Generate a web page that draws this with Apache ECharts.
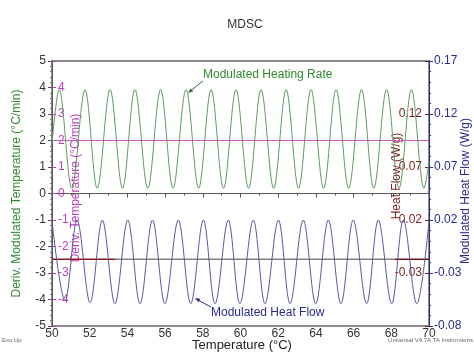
<!DOCTYPE html>
<html><head><meta charset="utf-8">
<script src="https://cdn.jsdelivr.net/npm/echarts/dist/echarts.min.js"></script>
<style>html,body{margin:0;padding:0;background:#fff}#c{width:474px;height:356px}</style>
</head><body><div id="c"></div>
<script>
// Modulated Heating Rate (°C/min) — extrema
const heatingRateT = [50.0, 50.38, 51.05, 51.75, 52.40, 53.08, 53.74, 54.40, 55.08, 55.76, 56.42, 57.11, 57.78, 58.44, 59.10, 59.76, 60.43, 61.09, 61.76, 62.42, 63.08, 63.74, 64.41, 65.07, 65.74, 66.42, 67.07, 67.75, 68.41, 69.07, 69.74, 70.0];
const heatingRateV = [1.9, 3.92, 0.2, 3.92, 0.2, 3.92, 0.2, 3.92, 0.2, 3.92, 0.2, 3.92, 0.2, 3.92, 0.2, 3.92, 0.2, 3.92, 0.2, 3.92, 0.2, 3.92, 0.2, 3.92, 0.2, 3.92, 0.2, 3.92, 0.2, 3.92, 0.2, 1.2];
// Modulated Heat Flow (W/g)
const modHeatFlowT = [50.0, 50.69, 51.33, 52.02, 52.67, 53.34, 54.02, 54.67, 55.33, 55.99, 56.70, 57.36, 58.03, 58.65, 59.35, 59.97, 60.68, 61.30, 62.01, 62.63, 63.33, 63.99, 64.66, 65.33, 65.98, 66.69, 67.31, 68.02, 68.64, 69.35, 70.0];
const modHeatFlowV = [0.019, -0.056, 0.020, -0.058, 0.020, -0.059, 0.020, -0.059, 0.020, -0.059, 0.020, -0.059, 0.020, -0.059, 0.020, -0.059, 0.020, -0.059, 0.020, -0.059, 0.020, -0.059, 0.020, -0.059, 0.020, -0.059, 0.020, -0.059, 0.020, -0.059, 0.019];
// Deriv. Temperature (°C/min)
const derivTempT = [50, 70];
const derivTempV = [2.0, 2.0];
// Heat Flow (W/g)
const heatFlowT = [50, 70];
const heatFlowV = [-0.017, -0.017];
// axis ranges
const xMin = 50, xMax = 70, xStep = 2;
const tempMin = -5, tempMax = 5;
const hfMin = -0.08, hfMax = 0.17, hfStep = 0.05;

const FONT = '"Liberation Sans", Arial, sans-serif';
const zip = (a, b, off) => a.map((t, i) => [t, b[i] + (off || 0)]);
const hfOff = -hfMin; // axis drawn from 0 so ticks start at min
const hfFmt = v => (v - hfOff).toFixed(2);

const chart = echarts.init(document.getElementById('c'), null, {renderer: 'canvas'});
const green = '#5b9b5b', navy = '#2b2b8e', magenta = '#c23cc2', brown = '#7a1f1f';

chart.setOption({
  animation: false,
  backgroundColor: '#fff',
  textStyle: {fontFamily: FONT},
  grid: {left: 52, right: 45, top: 61, bottom: 30, show: true, borderColor: '#8c8c8c', borderWidth: 2, outerBoundsMode: 'none'},
  xAxis: {
    type: 'value', min: xMin, max: xMax, interval: xStep,
    axisLine: {lineStyle: {color: '#555', width: 1}},
    axisTick: {length: 4, lineStyle: {color: '#555'}},
    minorTick: {show: true, splitNumber: 2, length: 2, lineStyle: {color: '#555'}},
    splitLine: {show: false},
    axisLabel: {color: '#333', fontSize: 12, margin: 2, fontFamily: FONT}
  },
  yAxis: [
    {
      type: 'value', position: 'left', min: tempMin, max: tempMax, interval: 1,
      axisLine: {show: true, lineStyle: {color: '#555'}},
      axisTick: {show: true, length: 4, lineStyle: {color: '#555'}},
      minorTick: {show: true, splitNumber: 5, length: 2, lineStyle: {color: '#777'}},
      splitLine: {show: false},
      axisLabel: {color: '#333', fontSize: 12, margin: 6, fontFamily: FONT},
      name: 'Deriv. Modulated Temperature (°C/min)', nameLocation: 'middle', nameGap: 29, nameRotate: 90,
      nameTextStyle: {color: '#2e8b2e', fontSize: 12, fontFamily: FONT}
    },
    {
      type: 'value', position: 'left', min: tempMin, max: tempMax, interval: 1,
      axisLine: {show: false},
      axisTick: {show: true, inside: true, length: 4, lineStyle: {color: magenta}},
      splitLine: {show: false},
      axisLabel: {inside: true, color: magenta, fontSize: 12, margin: 6, fontFamily: FONT,
        formatter: v => (Math.abs(v) >= 5 ? '' : String(v))}
    },
    {
      type: 'value', position: 'right', min: 0, max: hfMax - hfMin, interval: hfStep,
      axisLine: {show: true, lineStyle: {color: navy}},
      axisTick: {show: true, length: 4, lineStyle: {color: navy}},
      minorTick: {show: true, splitNumber: 5, length: 2, lineStyle: {color: navy}},
      splitLine: {show: false},
      axisLabel: {color: navy, fontSize: 12, margin: 5, fontFamily: FONT, formatter: hfFmt}
    },
    {
      type: 'value', position: 'right', min: 0, max: hfMax - hfMin, interval: hfStep,
      axisLine: {show: false},
      axisTick: {show: true, inside: true, length: 4, lineStyle: {color: brown}},
      splitLine: {show: false},
      axisLabel: {inside: true, color: brown, fontSize: 12, margin: 7, fontFamily: FONT,
        formatter: v => (v < 0.01 || v > 0.24 ? '' : hfFmt(v))}
    }
  ],
  series: [
    {
      name: 'Deriv. Temperature', type: 'line', yAxisIndex: 1, showSymbol: false,
      data: zip(derivTempT, derivTempV), lineStyle: {color: '#cc55cc', width: 1}, z: 2
    },
    {
      name: 'Heat Flow', type: 'line', yAxisIndex: 3, showSymbol: false,
      data: zip(heatFlowT, heatFlowV, hfOff),
      lineStyle: {width: 1.5, color: new echarts.graphic.LinearGradient(0, 0, 1, 0, [
        {offset: 0, color: '#8b1a1a'}, {offset: 0.172, color: '#8b1a1a'},
        {offset: 0.173, color: '#8a7c7c'}, {offset: 0.904, color: '#8a7c7c'},
        {offset: 0.905, color: '#6b1414'}, {offset: 1, color: '#6b1414'}])}, z: 2
    },
    {
      name: 'Modulated Heating Rate', type: 'line', yAxisIndex: 0, showSymbol: false, smooth: 0.35,
      data: zip(heatingRateT, heatingRateV), lineStyle: {color: green, width: 1}, z: 3
    },
    {
      name: 'Modulated Heat Flow', type: 'line', yAxisIndex: 2, showSymbol: false, smooth: 0.35,
      data: zip(modHeatFlowT, modHeatFlowV, hfOff), lineStyle: {color: '#5a5aa0', width: 1}, z: 3
    }
  ],
  graphic: [
    {type: 'text', style: {text: 'MDSC', x: 245, y: 25, align: 'center', verticalAlign: 'middle', fill: '#333', font: '12px ' + FONT}},
    {type: 'text', style: {text: 'Temperature (°C)', x: 242, y: 345, align: 'center', verticalAlign: 'middle', fill: '#222', font: '13px ' + FONT}},
    {type: 'text', x: 76, y: 188, rotation: Math.PI / 2, style: {text: 'Deriv. Temperature (°C/min)', x: 0, y: 0, align: 'center', verticalAlign: 'middle', fill: magenta, font: '12px ' + FONT}},
    {type: 'text', x: 397, y: 176, rotation: Math.PI / 2, style: {text: 'Heat Flow (W/g)', x: 0, y: 0, align: 'center', verticalAlign: 'middle', fill: brown, font: '12px ' + FONT}},
    {type: 'text', x: 466, y: 191, rotation: Math.PI / 2, style: {text: 'Modulated Heat Flow (W/g)', x: 0, y: 0, align: 'center', verticalAlign: 'middle', fill: navy, font: '12px ' + FONT}},
    {type: 'text', style: {text: 'Modulated Heating Rate', x: 203, y: 75, verticalAlign: 'middle', fill: '#2e8b2e', font: '12px ' + FONT}},
    {type: 'line', shape: {x1: 203, y1: 81, x2: 189, y2: 92}, style: {stroke: '#3a6a3a', lineWidth: 1}},
    {type: 'polygon', shape: {points: [[188, 93], [193.1, 91.5], [190.7, 88.3]]}, style: {fill: '#3a6a3a'}},
    {type: 'text', style: {text: 'Modulated Heat Flow', x: 211, y: 313, verticalAlign: 'middle', fill: navy, font: '12px ' + FONT}},
    {type: 'line', shape: {x1: 211, y1: 307, x2: 196, y2: 299}, style: {stroke: navy, lineWidth: 1}},
    {type: 'polygon', shape: {points: [[195, 298], [200.3, 298.7], [198.4, 302.2]]}, style: {fill: navy}},
    {type: 'text', style: {text: 'Exo Up', x: 2, y: 340, verticalAlign: 'middle', fill: '#666', font: '6px ' + FONT}},
    {type: 'text', style: {text: 'Universal V4.7A TA Instruments', x: 473, y: 340, align: 'right', verticalAlign: 'middle', fill: '#666', font: '6px ' + FONT}}
  ]
});
</script>
</body></html>
